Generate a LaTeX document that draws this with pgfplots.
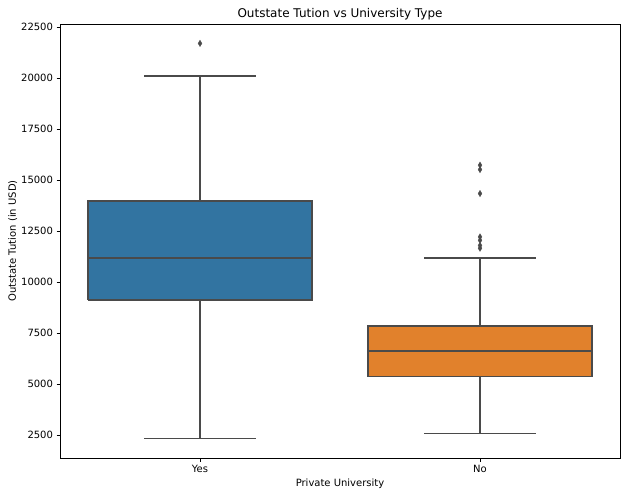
\documentclass[border=0pt]{standalone}
\usepackage{pgfplots}
\pgfplotsset{compat=1.18}
\usepackage{fontspec}
\setmainfont{DejaVu Sans}
\definecolor{sbblue}{HTML}{3274A1}
\definecolor{sborange}{HTML}{E1812C}
\definecolor{sbline}{HTML}{4A4A4A}
% narrow diamond, like matplotlib's 'd' marker
\pgfdeclareplotmark{thindiamond}{%
  \pgfpathmoveto{\pgfqpoint{0pt}{\pgfplotmarksize}}%
  \pgfpathlineto{\pgfqpoint{0.6\pgfplotmarksize}{0pt}}%
  \pgfpathlineto{\pgfqpoint{0pt}{-\pgfplotmarksize}}%
  \pgfpathlineto{\pgfqpoint{-0.6\pgfplotmarksize}{0pt}}%
  \pgfpathclose
  \pgfusepathqfillstroke}
\begin{document}
\begin{tikzpicture}
\useasboundingbox (0pt,0pt) rectangle (628pt,496pt);
\begin{axis}[
    at={(60pt,38pt)}, anchor=south west,
    width=560pt, height=434pt, scale only axis,
    xmin=-0.5, xmax=1.5,
    ymin=1380, ymax=22650,
    xtick={0,1}, xticklabels={Yes,No},
    ytick={2500,5000,...,22500},
    scaled y ticks=false,
    /pgf/number format/1000 sep={},
    /pgf/number format/assume math mode=true,
    tick align=outside, tick pos=left,
    major tick length=3.5pt,
    tick style={black, line width=0.8pt},
    axis line style={line width=0.8pt},
    ticklabel style={font=\fontsize{10}{12}\selectfont},
    xlabel={Private University}, ylabel={Outstate Tution (in USD)},
    ylabel shift=-3pt,
    label style={font=\fontsize{10}{12}\selectfont},
    title={Outstate Tution vs University Type},
    title style={font=\fontsize{12}{14}\selectfont, yshift=-6pt},
    clip=false,
    every axis plot/.append style={line width=1.8pt, line join=miter},
]
% Yes (private)
\addplot[fill=sbblue, draw=sbline] coordinates {(-0.4,9130) (0.4,9130) (0.4,13970) (-0.4,13970) (-0.4,9130)};
\addplot[sbline] coordinates {(-0.4,11200) (0.4,11200)};
\addplot[sbline] coordinates {(0,13970) (0,20100)};
\addplot[sbline] coordinates {(-0.2,20100) (0.2,20100)};
\addplot[sbline] coordinates {(0,9130) (0,2340)};
\addplot[sbline] coordinates {(-0.2,2340) (0.2,2340)};
\addplot[only marks, mark=thindiamond, mark size=3.2pt, fill=sbline, draw=sbline, mark options={line width=0.3pt}] coordinates {(0,21700)};
% No (public)
\addplot[fill=sborange, draw=sbline] coordinates {(0.6,5370) (1.4,5370) (1.4,7840) (0.6,7840) (0.6,5370)};
\addplot[sbline] coordinates {(0.6,6610) (1.4,6610)};
\addplot[sbline] coordinates {(1,7840) (1,11170)};
\addplot[sbline] coordinates {(0.8,11170) (1.2,11170)};
\addplot[sbline] coordinates {(1,5370) (1,2580)};
\addplot[sbline] coordinates {(0.8,2580) (1.2,2580)};
\addplot[only marks, mark=thindiamond, mark size=3.2pt, fill=sbline, draw=sbline, mark options={line width=0.3pt}] coordinates {(1,15732) (1,15516) (1,14340) (1,12216) (1,12050) (1,11800) (1,11660)};
\end{axis}
\end{tikzpicture}
\end{document}
